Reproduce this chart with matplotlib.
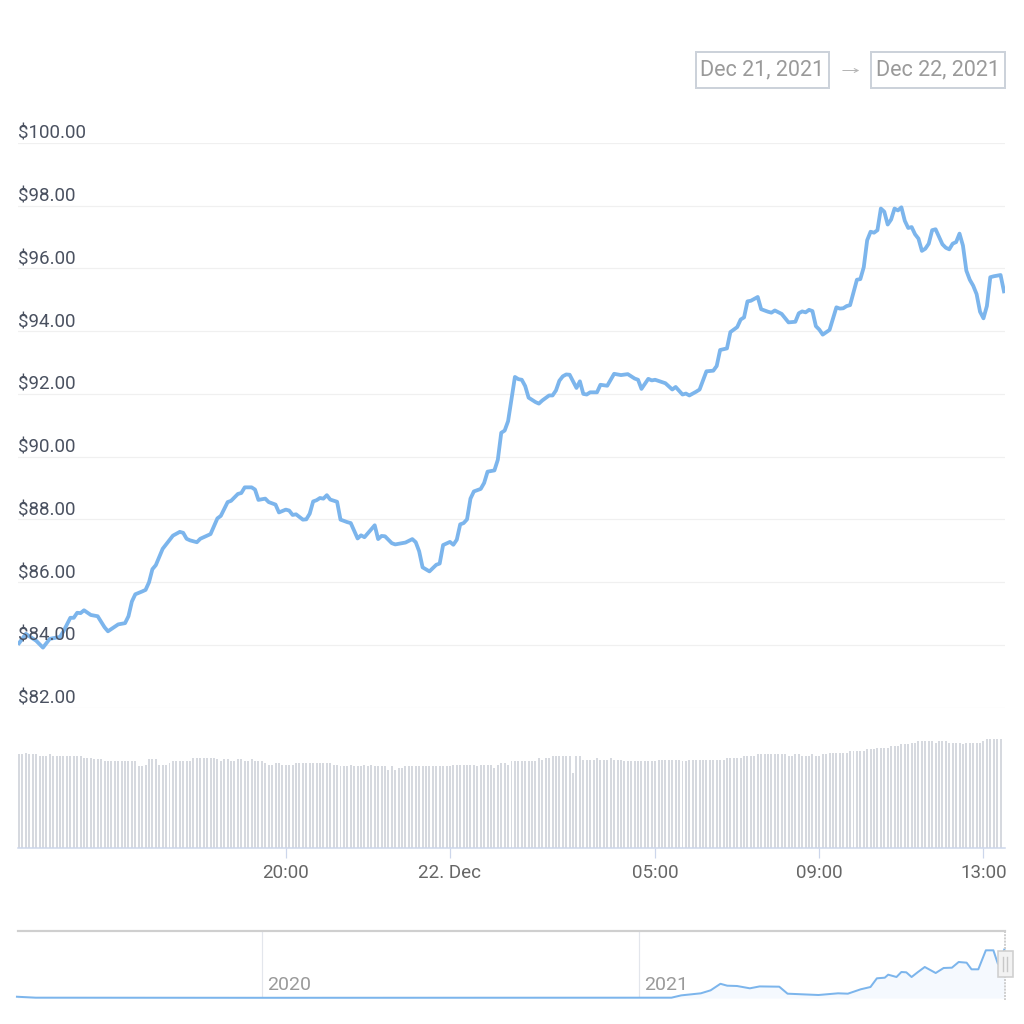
#!/usr/bin/env python3
"""Price chart with volume bars and a navigator strip, Dec 21-22, 2021."""

import matplotlib

matplotlib.use("Agg")

import matplotlib.pyplot as plt
import numpy as np
from matplotlib.patches import Rectangle

# minutes after 13:30 on Dec 21
PRICE_MIN = [
    0, 10, 15, 25, 35, 45, 60, 65, 75, 80, 85, 90, 95, 105, 115, 125, 130, 145, 155, 160,
    165, 170, 180, 185, 190, 195, 200, 210, 225, 235, 240, 245, 250, 260, 265, 280, 290, 295,
    305, 310, 320, 325, 330, 340, 345, 350, 360, 365, 375, 380, 390, 395, 400, 405, 415, 420,
    425, 430, 435, 440, 445, 450, 455, 465, 470, 480, 485, 495, 500, 505, 520, 525, 530, 535,
    545, 550, 565, 575, 580, 585, 590, 600, 610, 615, 620, 630, 635, 640, 645, 650, 655, 660,
    665, 675, 680, 685, 695, 700, 705, 710, 715, 725, 730, 735, 740, 745, 755, 760, 765, 775,
    780, 785, 790, 795, 800, 805, 815, 820, 825, 830, 835, 845, 850, 860, 870, 880, 890, 900,
    905, 910, 920, 925, 930, 945, 955, 960, 970, 975, 980, 990, 995, 1005, 1015, 1020, 1025,
    1035, 1040, 1050, 1055, 1060, 1065, 1070, 1080, 1085, 1095, 1100, 1105, 1115, 1125, 1135,
    1140, 1145, 1150, 1155, 1160, 1165, 1170, 1175, 1185, 1195, 1200, 1205, 1210, 1215, 1225,
    1230, 1235, 1240, 1245, 1250, 1255, 1260, 1265, 1270, 1275, 1280, 1285, 1290, 1295, 1300,
    1305, 1310, 1315, 1320, 1325, 1330, 1335, 1340, 1350, 1355, 1360, 1365, 1370, 1375, 1380,
    1385, 1390, 1395, 1400, 1405, 1410, 1415, 1420, 1425, 1435, 1440,
]
PRICE_USD = [
    84.05, 84.35, 84.27, 84.13, 83.91, 84.19, 84.25, 84.43, 84.86, 84.86, 85.02, 85.01, 85.10,
    84.95, 84.91, 84.56, 84.43, 84.65, 84.69, 84.91, 85.38, 85.61, 85.70, 85.75, 85.99, 86.41,
    86.54, 87.06, 87.48, 87.60, 87.57, 87.38, 87.33, 87.27, 87.38, 87.53, 88.03, 88.11, 88.55,
    88.59, 88.81, 88.84, 89.02, 89.02, 88.95, 88.62, 88.66, 88.55, 88.47, 88.22, 88.31, 88.28,
    88.14, 88.16, 87.99, 88.00, 88.18, 88.57, 88.61, 88.68, 88.66, 88.77, 88.63, 88.56, 87.99,
    87.91, 87.88, 87.39, 87.49, 87.43, 87.81, 87.37, 87.47, 87.46, 87.24, 87.20, 87.26, 87.37,
    87.27, 86.98, 86.47, 86.34, 86.55, 86.59, 87.18, 87.28, 87.19, 87.35, 87.84, 87.88, 88.00,
    88.66, 88.89, 88.97, 89.16, 89.52, 89.56, 89.90, 90.76, 90.83, 91.13, 92.54, 92.47, 92.45,
    92.25, 91.88, 91.74, 91.69, 91.79, 91.95, 91.95, 92.11, 92.42, 92.56, 92.62, 92.61, 92.19,
    92.40, 92.00, 91.98, 92.05, 92.05, 92.29, 92.26, 92.64, 92.60, 92.63, 92.49, 92.45, 92.16,
    92.48, 92.43, 92.45, 92.34, 92.14, 92.22, 91.98, 92.01, 91.95, 92.07, 92.14, 92.72, 92.74,
    92.89, 93.40, 93.45, 93.97, 94.13, 94.37, 94.44, 94.95, 94.97, 95.09, 94.70, 94.62, 94.59,
    94.66, 94.55, 94.28, 94.30, 94.57, 94.63, 94.60, 94.68, 94.64, 94.16, 94.05, 93.89, 94.04,
    94.76, 94.72, 94.73, 94.80, 94.83, 95.64, 95.66, 96.04, 96.90, 97.17, 97.14, 97.22, 97.91,
    97.81, 97.40, 97.56, 97.91, 97.85, 97.95, 97.52, 97.29, 97.32, 97.09, 96.95, 96.56, 96.63,
    96.79, 97.22, 97.25, 96.77, 96.66, 96.61, 96.79, 96.84, 97.11, 96.73, 95.93, 95.64, 95.45,
    95.18, 94.62, 94.41, 94.80, 95.72, 95.75, 95.79, 95.27,
]
VOLUME = (
    [94, 94, 95, 94, 94, 94, 92, 92, 92, 94] + [92] * 9 + [90] * 3 + [89] * 3 + [87] * 10
    + [82, 82, 83, 89, 89, 89, 83, 83, 83, 85] + [87] * 6 + [90] * 7
    + [89, 87, 89, 89, 87, 87, 89, 89, 87, 87, 89, 87, 87, 87]
    + [85, 83, 83, 85, 85, 83, 83, 83, 83] + [85] * 11 + [83, 83]
    + [82, 82, 82, 83, 82, 82, 82, 83, 82, 83, 82, 82, 82, 82]
    + [78, 82, 78, 80, 80] + [82] * 14 + [83] * 7 + [82] + [83] * 4
    + [80, 83, 85, 85, 83] + [87] * 8 + [90, 88, 90, 90] + [92] * 6 + [75, 92, 92]
    + [88] * 4 + [90, 88, 88, 88, 90, 88, 88, 88] + [87] * 10 + [88] * 3
    + [88] * 4 + [87, 87] + [88] * 11 + [90] * 5 + [92] * 4 + [94] * 9 + [92, 92, 94, 94]
    + [92, 92, 92, 94, 92, 92, 94, 94] + [95] * 6 + [97] * 5 + [99] * 3 + [100] * 4
    + [102] * 3 + [104] * 3 + [105, 105] + [107] * 5 + [105, 107, 107, 107] + [105] * 4
    + [104] + [105] * 5 + [107] + [109] * 5
)
Y_TICKS = [82, 84, 86, 88, 90, 92, 94, 96, 98, 100]
X_TICKS = [390, 630, 930, 1170, 1410]
X_LABELS = ["20:00", "22. Dec", "05:00", "09:00", "13:00"]
DATE_FROM = "Dec 21, 2021"
DATE_TO = "Dec 22, 2021"

NAV_YEAR = [
    2019.35, 2019.40, 2020.00, 2021.086, 2021.112, 2021.164, 2021.19, 2021.216, 2021.234,
    2021.26, 2021.294, 2021.32, 2021.372, 2021.394, 2021.433, 2021.476, 2021.528, 2021.554,
    2021.588, 2021.614, 2021.631, 2021.652, 2021.661, 2021.683, 2021.696, 2021.709, 2021.723,
    2021.74, 2021.758, 2021.787, 2021.808, 2021.83, 2021.848, 2021.869, 2021.882, 2021.90,
    2021.92, 2021.94, 2021.952, 2021.97,
]
NAV_PRICE = [
    2.4, 0.6, 0.4, 0.6, 5.0, 8.9, 14.6, 27.0, 23.4, 22.8, 18.4, 22.0, 21.5, 8.2, 7.0, 5.7,
    8.9, 8.2, 16.5, 20.9, 37.4, 38.6, 44.3, 39.9, 49.4, 48.8, 39.9, 49.4, 58.9, 47.5, 57.0,
    57.6, 68.4, 67.1, 54.5, 54.5, 90.6, 90.6, 65.0, 93.7,
]
NAV_TICKS = [2020, 2021]

LINE_BLUE = "#7CB5EC"
GRID = "#F0F0F0"
AXIS_BLUE = "#CCD6EB"
BAR_GREY = "#D6D9DF"
LABEL = "#4A5160"
TICK_TEXT = "#666666"
MUTED = "#9A9A9A"
BOX_EDGE = "#CCD2DA"
FONT = "Roboto"
PX = 0.72  # points per pixel at dpi 100

plt.rcParams.update({"font.family": FONT, "font.size": 13.5})


def px_axes(fig, left, top, right, bottom):
    return fig.add_axes(
        [left / 1024, 1 - bottom / 1024, (right - left) / 1024, (bottom - top) / 1024]
    )


def draw_price(fig):
    ax = px_axes(fig, 18, 143, 1005, 707.5)
    ax.plot(PRICE_MIN, PRICE_USD, color=LINE_BLUE, lw=3.8 * PX, solid_joinstyle="round", zorder=3)
    ax.set_xlim(-1.5, 1441.5)
    ax.set_ylim(82, 100)
    ax.set_yticks(Y_TICKS)
    ax.set_xticks([])
    ax.tick_params(left=False, labelleft=False)
    ax.grid(True, axis="y", color=GRID, lw=1.2 * PX)
    ax.set_axisbelow(True)
    for spine in ax.spines.values():
        spine.set_visible(False)
    ax.patch.set_alpha(0)
    for value in Y_TICKS:
        ax.annotate(
            f"${value:.2f}",
            xy=(0, value),
            xycoords=ax.get_yaxis_transform(),
            xytext=(0, 9 * PX),
            textcoords="offset points",
            ha="left",
            va="center",
            color=LABEL,
            fontsize=13.5,
            annotation_clip=False,
            zorder=5,
        )


def draw_volume(fig):
    ax = px_axes(fig, 18, 735, 1005, 848)
    minutes = np.arange(len(VOLUME)) * 5
    ax.bar(minutes, VOLUME, width=2.9, color=BAR_GREY, linewidth=0)
    ax.set_xlim(-1.5, 1441.5)
    ax.set_ylim(0, 113)
    ax.set_yticks([])
    ax.set_xticks(X_TICKS)
    ax.set_xticklabels(X_LABELS, color=TICK_TEXT, fontsize=13.5)
    ax.tick_params(axis="x", length=10 * PX, width=1.2 * PX, color=AXIS_BLUE, pad=4.5)
    for name in ("top", "left", "right"):
        ax.spines[name].set_visible(False)
    ax.spines["bottom"].set_color(AXIS_BLUE)
    ax.spines["bottom"].set_linewidth(1.5 * PX)
    ax.patch.set_alpha(0)


def draw_navigator(fig):
    ax = px_axes(fig, 18, 931, 1005, 998)
    ax.fill_between(NAV_YEAR, NAV_PRICE, 0, color="#F5F9FE", linewidth=0)
    ax.plot(NAV_YEAR, NAV_PRICE, color=LINE_BLUE, lw=2 * PX, clip_on=False, zorder=3)
    ax.set_xlim(2020 - 244 / 377, 2021 + 366 / 377)
    ax.set_ylim(0, 127.3)
    ax.set_yticks([])
    ax.set_xticks(NAV_TICKS)
    ax.tick_params(bottom=False, labelbottom=False)
    ax.grid(True, axis="x", color="#E3E6EC", lw=1.2 * PX)
    ax.set_axisbelow(True)
    for name in ("bottom", "left", "right"):
        ax.spines[name].set_visible(False)
    ax.spines["top"].set_color("#CFCFCF")
    ax.spines["top"].set_linewidth(2.2 * PX)
    for year in NAV_TICKS:
        ax.annotate(
            str(year),
            xy=(year, 0),
            xycoords=ax.get_xaxis_transform(),
            xytext=(5.5 * PX, 13 * PX),
            textcoords="offset points",
            ha="left",
            va="center",
            color=MUTED,
            fontsize=14,
        )


def draw_overlay(fig):
    # date boxes, arrow and navigator handle, in picture pixels
    ax = fig.add_axes([0, 0, 1, 1])
    ax.set_xlim(0, 1024)
    ax.set_ylim(1024, 0)
    ax.axis("off")
    ax.patch.set_alpha(0)

    for left, label in ((695.5, DATE_FROM), (871, DATE_TO)):
        ax.add_patch(Rectangle((left, 52), 133.5, 36, fc="white", ec=BOX_EDGE, lw=2 * PX))
        ax.text(left + 66.5, 69.5, label, ha="center", va="center", color=MUTED, fontsize=15.5)
    ax.annotate(
        "",
        xy=(862, 70.5),
        xytext=(840, 70.5),
        arrowprops={"arrowstyle": "->", "color": "#B5B5B5", "lw": 1.0 * PX, "mutation_scale": 7},
    )

    ax.plot([1005, 1005], [931, 1000], color="#CFCFCF", lw=2 * PX, ls=(0, (1, 0.6)))
    ax.add_patch(Rectangle((997.5, 951), 15.5, 26, fc="#F2F2F2", ec="#CFCFCF", lw=1.6 * PX, zorder=4))
    for x in (1003, 1007):
        ax.plot([x, x], [957, 971], color="#C8C8C8", lw=1.4 * PX, zorder=5)


def main():
    fig = plt.figure(figsize=(10.24, 10.24), dpi=100, facecolor="white")
    draw_volume(fig)
    draw_price(fig)
    draw_navigator(fig)
    draw_overlay(fig)
    fig.savefig("out.png", dpi=100, facecolor="white")
    plt.close(fig)


if __name__ == "__main__":
    main()
